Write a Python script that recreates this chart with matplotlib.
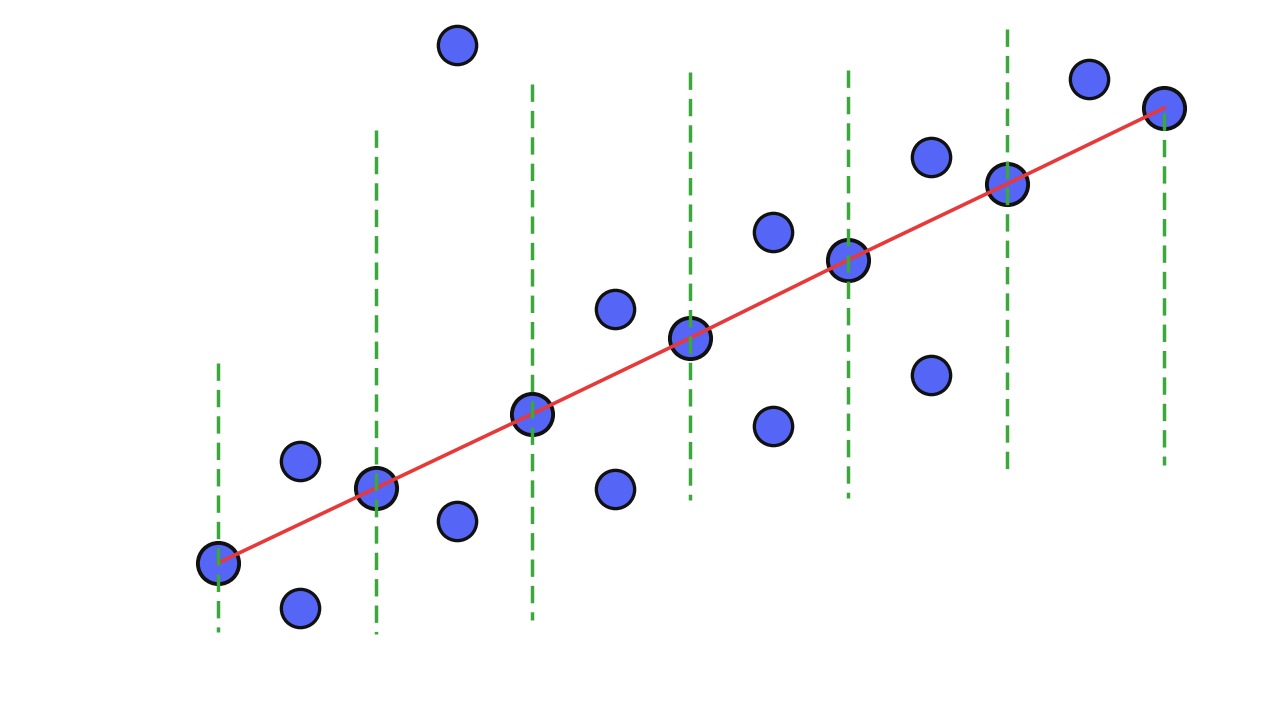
import matplotlib
matplotlib.use("Agg")
import matplotlib.pyplot as plt

# points on the fitted line (screen-like units, y grows downward)
line_x = [218, 376, 532, 690, 848, 1007, 1164]
line_y = [563, 488, 414, 338, 260, 184, 108]

# scattered points around the line
off_x = [300, 300, 457, 457, 615, 615, 773, 773, 931, 931, 1089]
off_y = [461, 608, 45, 521, 309, 489, 232, 426, 157, 375, 79]

# vertical dashed guides: x, top, bottom
guide_x = [218, 376, 532, 690, 848, 1007, 1164]
guide_top = [363, 130, 84, 72, 70, 29, 113]
guide_bottom = [632, 634, 620, 500, 498, 475, 465]

fig = plt.figure(figsize=(12.8, 7.2), dpi=100)
ax = fig.add_axes([0, 0, 1, 1])
ax.set_xlim(0, 1280)
ax.set_ylim(720, 0)
ax.axis("off")

blue = "#5565f5"
ax.scatter(off_x, off_y, s=760, color=blue, edgecolors="#111111", linewidths=2.4, zorder=2)
ax.scatter(line_x, line_y, s=880, color=blue, edgecolors="#111111", linewidths=2.8, zorder=2)

ax.plot(line_x, line_y, color="#e8393a", lw=2.6, zorder=3)
ax.vlines(guide_x, guide_top, guide_bottom, colors="#3aa83a", lw=2.5,
          linestyles=(0, (5, 2.6)), zorder=4)

fig.savefig("out.png", dpi=100, facecolor="white")
